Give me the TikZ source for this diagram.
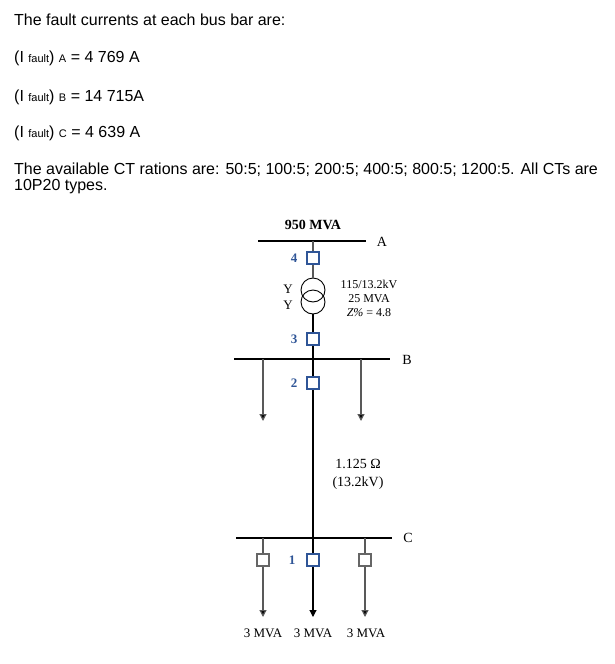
\documentclass[tikz,border=0pt]{standalone}
\usepackage{fontspec}
\setmainfont{Liberation Serif}
\newfontfamily\arial{Liberation Sans}
\usetikzlibrary{arrows.meta}
\definecolor{ctblue}{HTML}{2F5597}
\begin{document}
\begin{tikzpicture}[x=1pt,y=-1pt,
  txt/.style={anchor=west,inner sep=0pt,font=\arial\fontsize{16}{18}\selectfont},
  bus/.style={line width=2.2pt},
  ct/.style={draw=ctblue,line width=1.6pt,fill=white,minimum size=12pt,inner sep=0pt},
  gct/.style={draw=gray!80!black,line width=1.1pt,fill=white,minimum size=12pt,inner sep=0pt},
  num/.style={text=ctblue,font=\bfseries\fontsize{13}{14}\selectfont},
  lab/.style={font=\fontsize{13}{15}\selectfont},
  feed/.style={draw=gray!70!black,line width=1.2pt,-{Triangle[length=7pt,width=7pt,fill=black]}},
  ln/.style={line width=1.1pt}]
\useasboundingbox (0,0) rectangle (614,664);
\newcommand\sm[1]{{\fontsize{11}{12}\selectfont #1}}
\node[txt] (t1) at (14,20) {The fault currents at each bus bar are:};
\node[txt] (t2) at (14,58) {(I \sm{fault}) \sm{A} = 4 769 A};
\node[txt] (t3) at (14,97) {(I \sm{fault}) \sm{B} = 14 715A};
\node[txt] (t4) at (14,133) {(I \sm{fault}) \sm{C} = 4 639 A};
\node[txt] (t5) at (14,170) {The available CT rations are: 50:5; 100:5; 200:5; 400:5; 800:5; 1200:5. All CTs are};
\node[txt] (t6) at (14,187) {10P20 types.};
% diagram
\node[font=\bfseries\fontsize{14}{16}\selectfont] (mva) at (313,225) {950 MVA};
\coordinate (Al) at (258,241); \coordinate (Ar) at (366,241);
\draw[bus] (Al) -- (Ar);
\node[font=\fontsize{14}{16}\selectfont] (A) at (382,242) {A};
\coordinate (Bl) at (234,359); \coordinate (Br) at (390,359);
\draw[bus] (Bl) -- (Br);
\node[font=\fontsize{14}{16}\selectfont] (B) at (407,360) {B};
\coordinate (Cl) at (236,538); \coordinate (Cr) at (392,538);
\draw[bus] (Cl) -- (Cr);
\node[font=\fontsize{14}{16}\selectfont] (C) at (408,538) {C};
\coordinate (a0) at (313,241);
\coordinate (b0) at (313,359);
\coordinate (c0) at (313,538);
% transformer
\node[draw,circle,minimum size=24pt,inner sep=0pt,line width=0.9pt] (w1) at (313,290) {};
\node[draw,circle,minimum size=24pt,inner sep=0pt,line width=0.9pt] (w2) at (313,302) {};
\node[lab] (y1) at (288,289) {Y};
\node[lab] (y2) at (288,305) {Y};
\node[align=center,font=\fontsize{12}{14}\selectfont] (tr) at (369,298) {115/13.2kV\\25 MVA\\\textit{Z\%} = 4.8};
\draw[draw=gray!70!black,line width=1.2pt] (a0) -- (w1.north);
\draw[ln] (w2.south) -- (b0);
\draw[ln] (b0) -- (c0);
\draw[line width=2.6pt] (313,456) coordinate (r1) -- (313,502) coordinate (r2);
\node[align=center,font=\fontsize{14}{18}\selectfont] (res) at (358,474) {1.125 Ω\\(13.2kV)};
% CTs
\node[ct] (ct4) at (313,258) {}; \node[num,anchor=east] (n4) at (301,258) {4};
\node[ct] (ct3) at (313,339) {}; \node[num,anchor=east] (n3) at (301,339) {3};
\node[ct] (ct2) at (313,383) {}; \node[num,anchor=east] (n2) at (301,383) {2};
% B feeders
\coordinate (bf1) at (263,359); \coordinate (bf2) at (361,359);
\coordinate (be1) at (263,421); \coordinate (be2) at (361,421);
\draw[feed] (bf1) -- (be1);
\draw[feed] (bf2) -- (be2);
% C feeders
\coordinate (cf1) at (263,538); \coordinate (cf3) at (365,538);
\coordinate (ce1) at (263,617); \coordinate (ce2) at (313,617); \coordinate (ce3) at (365,617);
\draw[feed] (cf1) -- (ce1);
\draw[feed] (cf3) -- (ce3);
\draw[ln,-{Triangle[length=7pt,width=7pt]}] (c0) -- (ce2);
\node[gct] (cta) at (263,560) {};
\node[gct] (ctc) at (365,560) {};
\node[ct] (ct1) at (313,560) {}; \node[num,anchor=east] (n1) at (299,560) {1};
\node[lab] (m1) at (263,633) {3 MVA};
\node[lab] (m2) at (313,633) {3 MVA};
\node[lab] (m3) at (366,633) {3 MVA};
\end{tikzpicture}
\end{document}
